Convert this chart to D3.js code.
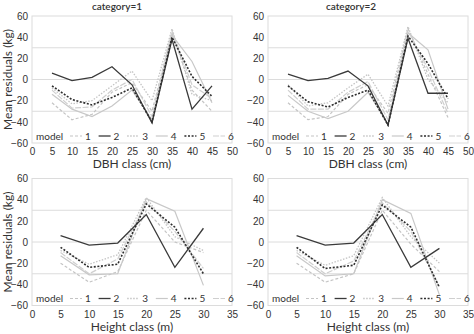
<!DOCTYPE html>
<html>
<head>
<meta charset="utf-8">
<script src="https://cdn.jsdelivr.net/npm/d3@7"></script>
<style>
  body { margin: 0; background: #fff; }
  svg { display: block; font-family: Lato, "Open Sans", sans-serif; }
</style>
</head>
<body>
<div id="chart-area"></div>
<script>
// class midpoints on the x axes
var dbhClasses = [5, 10, 15, 20, 25, 30, 35, 40, 45];
var heightClasses = [5, 10, 15, 20, 25, 30];
var models = ["1", "2", "3", "4", "5", "6"];

var yTicks = [-60, -40, -20, 0, 20, 40, 60];
var dbhTicks = [0, 5, 10, 15, 20, 25, 30, 35, 40, 45, 50];
var heightTicks = [0, 5, 10, 15, 20, 25, 30, 35];

// mean residuals (kg), one row per model 1..6
var dbhCat1 = [
    [-22, -38, -33, -12, -3, -30, 44, -10, -30],
    [6, -1, 2, 12, -5, -41, 38, -28, -6],
    [-8, -23, -20, -6, 8, -20, 48, -14, -20],
    [-14, -28, -35, -25, -10, -38, 42, 17, -22],
    [-6, -19, -24, -17, -8, -40, 40, 3, -16],
    [-10, -27, -26, -10, 0, -35, 46, -5, -18]
];
var dbhCat2 = [
    [-22, -38, -35, -14, -5, -32, 48, 5, -36],
    [5, -1, 1, 8, -6, -43, 39, -13, -13],
    [-5, -25, -22, -8, 5, -25, 50, 0, -22],
    [-15, -30, -37, -30, -12, -42, 44, 28, -28],
    [-6, -21, -26, -17, -10, -43, 41, 15, -18],
    [-10, -28, -28, -12, -2, -38, 46, 10, -32]
];
var heightCat1 = [
    [-20, -38, -28, 30, 0, -10],
    [6, -3, -1, 26, -24, 13],
    [-8, -21, -12, 42, 5, -8],
    [-13, -31, -30, 41, 29, -41],
    [-5, -24, -21, 36, 14, -30],
    [-10, -30, -16, 38, 10, -25]
];
var heightCat2 = [
    [-20, -38, -30, 30, -2, -28],
    [6, -3, -1, 26, -24, -6],
    [-8, -22, -13, 42, 5, -20],
    [-13, -32, -30, 40, 27, -50],
    [-5, -25, -22, 35, 14, -43],
    [-10, -30, -18, 37, 10, -42]
];

// stroke styles per model
var lineStyle = [
    { color: "#c4c4c4", dash: "3,2", width: 1.2 },
    { color: "#3a3a3a", dash: null, width: 1.3 },
    { color: "#c4c4c4", dash: "1.5,1.5", width: 1.3 },
    { color: "#c8c8c8", dash: null, width: 1.2 },
    { color: "#2e2e2e", dash: "2,1.6", width: 1.6 },
    { color: "#cfcfcf", dash: "6,1.5", width: 1.2 }
];

var W = 474, H = 334;
var plotW = 200, plotH = 127;

var svg = d3.select("#chart-area")
    .append("svg")
    .attr("width", W)
    .attr("height", H);

var panels = [
    { left: 32, top: 16, ox: 0, title: "category=1", xs: dbhClasses, rows: dbhCat1, xMax: 50, ticks: dbhTicks, xLabel: "DBH class (cm)", yLabel: true },
    { left: 268, top: 16, ox: 234, title: "category=2", xs: dbhClasses, rows: dbhCat2, xMax: 50, ticks: dbhTicks, xLabel: "DBH class (cm)", yLabel: false },
    { left: 32, top: 178.5, ox: 0, title: null, xs: heightClasses, rows: heightCat1, xMax: 35, ticks: heightTicks, xLabel: "Height class (m)", yLabel: true },
    { left: 268, top: 178.5, ox: 234, title: null, xs: heightClasses, rows: heightCat2, xMax: 35, ticks: heightTicks, xLabel: "Height class (m)", yLabel: false }
];

panels.forEach(drawPanel);

function drawPanel(p)
{
    var x = d3.scaleLinear().domain([0, p.xMax]).range([0, plotW]);
    var y = d3.scaleLinear().domain([-60, 60]).range([plotH, 0]);

    var g = svg.append("g")
        .attr("transform", "translate(" + p.left + "," + p.top + ")");

    // frame
    g.append("rect")
        .attr("width", plotW)
        .attr("height", plotH)
        .attr("fill", "none")
        .attr("stroke", "#dcdcdc");

    // reference lines every 30 kg
    g.selectAll(".grid")
        .data([-30, 0, 30])
        .enter()
        .append("line")
        .attr("x1", 0)
        .attr("x2", plotW)
        .attr("y1", function(d) { return y(d); })
        .attr("y2", function(d) { return y(d); })
        .attr("stroke", "#dcdcdc");

    var yAxis = g.append("g")
        .call(d3.axisLeft(y).tickValues(yTicks).tickSize(0).tickPadding(4));
    yAxis.select(".domain").remove();
    yAxis.selectAll("text").attr("font-size", 10).attr("fill", "#333");

    var xAxis = g.append("g")
        .attr("transform", "translate(0," + plotH + ")")
        .call(d3.axisBottom(x).tickValues(p.ticks).tickSize(0).tickPadding(5));
    xAxis.select(".domain").remove();
    xAxis.selectAll("text").attr("font-size", 10).attr("fill", "#333");

    var line = d3.line()
        .x(function(d) { return x(d[0]); })
        .y(function(d) { return y(d[1]); });

    // light models first so the dark ones sit on top
    var order = [0, 2, 3, 5, 1, 4];
    order.forEach(function(i) {
        var pts = p.xs.map(function(v, k) { return [v, p.rows[i][k]]; });
        g.append("path")
            .attr("d", line(pts))
            .attr("fill", "none")
            .attr("stroke", lineStyle[i].color)
            .attr("stroke-width", lineStyle[i].width)
            .attr("stroke-dasharray", lineStyle[i].dash);
    });

    // legend along the bottom of the plot
    var leg = g.append("g")
        .attr("transform", "translate(0," + (plotH - 7) + ")");
    leg.append("text")
        .attr("x", 4)
        .attr("dy", "0.35em")
        .attr("font-size", 10)
        .attr("fill", "#333")
        .text("model");
    models.forEach(function(m, i) {
        var lx = 38 + i * 28.6;
        leg.append("line")
            .attr("x1", lx)
            .attr("x2", lx + 12)
            .attr("stroke", lineStyle[i].color)
            .attr("stroke-width", lineStyle[i].width)
            .attr("stroke-dasharray", lineStyle[i].dash);
        leg.append("text")
            .attr("x", lx + 15)
            .attr("dy", "0.35em")
            .attr("font-size", 10)
            .attr("fill", "#333")
            .text(m);
    });

    if (p.title) {
        svg.append("text")
            .attr("x", p.ox + 117)
            .attr("y", 6)
            .attr("dy", "0.35em")
            .attr("text-anchor", "middle")
            .attr("font-size", 10)
            .attr("font-weight", 600)
            .attr("fill", "#333")
            .text(p.title);
    }

    g.append("text")
        .attr("x", plotW / 2)
        .attr("y", plotH + 21)
        .attr("dy", "0.35em")
        .attr("text-anchor", "middle")
        .attr("font-size", 12)
        .attr("fill", "#333")
        .text(p.xLabel);

    if (p.yLabel) {
        svg.append("text")
            .attr("transform", "translate(8," + (p.top + plotH / 2) + ") rotate(-90)")
            .attr("dy", "0.35em")
            .attr("text-anchor", "middle")
            .attr("font-size", 12)
            .attr("fill", "#333")
            .text("Mean residuals (kg)");
    }
}
</script>
</body>
</html>
